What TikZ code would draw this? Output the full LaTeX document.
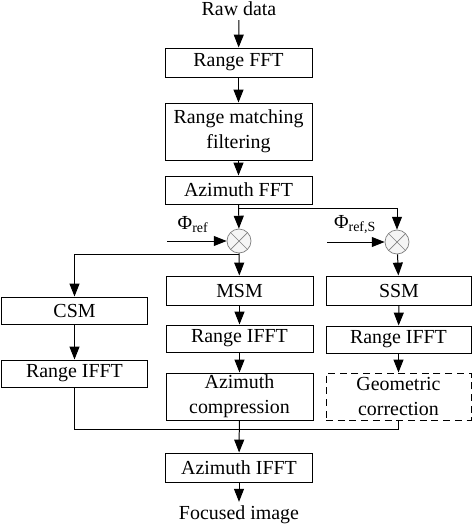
\documentclass[tikz,border=0pt]{standalone}
\usepackage{fontspec}
\setmainfont{Liberation Serif}
\usepackage{tikz}
\usetikzlibrary{arrows.meta}
\usetikzlibrary{positioning}

\tikzset{
  box/.style={draw,line width=0.85pt,inner sep=0pt,align=center,
    minimum width=4.41cm,minimum height=0.87cm},
  sbox/.style={box,minimum width=4.35cm},
  mix/.style={circle,draw=gray,fill=gray!8,line width=0.6pt,minimum size=0.72cm,inner sep=0pt},
  arr/.style={line width=0.85pt,-{Triangle[length=11pt,width=8.5pt]}},
  ln/.style={line width=0.85pt},
}

\begin{document}
\begin{tikzpicture}
		[x=0.03cm,y=-0.03cm,every node/.style={font=\fontsize{17}{21}\selectfont}]
		\useasboundingbox (0,0) rectangle (474,526);
		\node (n0) at (239,9) {Raw data};
		\node[box] (n1) at (238.5,62.5) {Range FFT};
		\node[box,minimum height=1.71cm] (n2) at (238.5,131.5) {Range matching\\filtering};
		\node[box,minimum height=0.84cm] (n3) at (238.5,190) {Azimuth FFT};
		\node[mix] (m1) at (239,241) {};
		\node[mix] (m2) at (397,242) {};
		\node[sbox,minimum height=0.81cm] (n4) at (74.5,310.5) {CSM};
		\node[box] (n5) at (239.5,290.5) {MSM};
		\node[sbox] (n6) at (399,290.5) {SSM};
		\node[sbox,minimum height=0.81cm] (n7) at (74.5,373.5) {Range IFFT};
		\node[box,minimum height=0.81cm] (n8) at (239.5,338.5) {Range IFFT};
		\node[sbox,minimum height=0.81cm] (n9) at (398.5,339.5) {Range IFFT};
		\node[box,minimum height=1.41cm] (n10) at (239.5,396.5) {Azimuth\\compression};
		\node[sbox,minimum height=1.41cm,dash pattern=on 6pt off 4pt] (n11) at (398.5,396.5) {Geometric\\correction};
		\node[box] (n12) at (239,467.5) {Azimuth IFFT};
		\node (n13) at (239,515) {Focused image};
		
		% mixer crosses
		\foreach \m in {m1,m2}
		{\draw[gray,line width=0.6pt] (\m.north west) -- (\m.south east);
		 \draw[gray,line width=0.6pt] (\m.north east) -- (\m.south west);}
		
		% phase inputs
		\coordinate (p1) at (167,241);
		\coordinate (p2) at (327,242);
		\node (l1) at (193,225) {Φ\textsubscript{ref}};
		\node (l2) at (355,225) {Φ\textsubscript{ref,S}};
		\draw[arr] (p1) -- (m1);
		\draw[arr] (p2) -- (m2);
		
		\foreach \from/\to in
		{n0/n1, n1/n2, n2/n3, n3/m1, m1/n5, n4/n7, n5/n8, n8/n10,
		 m2/n6, n6/n9, n9/n11, n10/n12, n12/n13}
		\draw[arr] (\from) -- (\to);
		
		% branches
		\coordinate (b1) at (239,208);
		\coordinate (b2) at (239,254);
		\coordinate (b3) at (239,429);
		\draw[arr] (b1) -| (m2);
		\draw[arr] (b2) -| (n4);
		\draw[ln] (n7) |- (b3);
		\draw[ln] (n11) |- (b3);
		\end{tikzpicture}
\end{document}
